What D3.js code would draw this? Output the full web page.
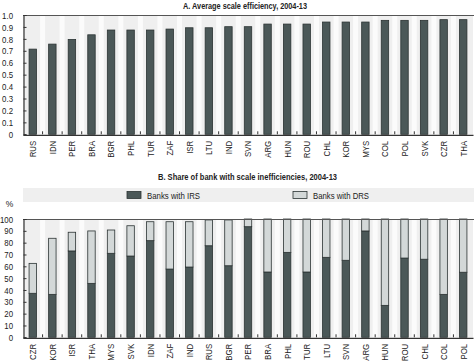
<!DOCTYPE html>
<html><head><meta charset="utf-8">
<script src="https://cdn.jsdelivr.net/npm/d3@7"></script>
<style>body{margin:0;background:#fff}svg{display:block}text{font-family:"Liberation Sans",Arial,sans-serif;fill:#222}</style>
</head><body><svg id="c" width="474" height="361"></svg>
<script>
const catsA = ["RUS","IDN","PER","BRA","BGR","PHL","TUR","ZAF","ISR","LTU","IND","SVN","ARG","HUN","ROU","CHL","KOR","MYS","COL","POL","SVK","CZR","THA"];
const effA  = [0.714,0.756,0.795,0.834,0.874,0.874,0.874,0.882,0.893,0.893,0.902,0.902,0.924,0.924,0.924,0.941,0.941,0.941,0.955,0.955,0.955,0.961,0.961];
const catsB = ["CZR","KOR","ISR","THA","MYS","SVK","IDN","ZAF","IND","RUS","BGR","PER","BRA","PHL","TUR","LTU","SVN","ARG","HUN","ROU","CHL","COL","POL"];
const irsB  = [37.2,36.3,73.0,45.6,71.0,68.7,81.7,57.7,59.4,77.4,60.5,93.5,55.2,71.8,55.2,67.6,65.1,89.9,27.0,67.0,66.0,36.3,55.0];
const drsB  = [25.3,47.4,15.8,44.3,19.7,25.6,16.0,40.0,38.3,21.8,38.7,6.5,44.8,28.2,44.8,32.4,34.9,10.1,73.0,33.0,34.0,63.7,45.0];
const ticksA = [0,0.1,0.2,0.3,0.4,0.5,0.6,0.7,0.8,0.9,1.0];
const ticksB = [0,10,20,30,40,50,60,70,80,90,100];
const titleA = "A. Average scale efficiency, 2004-13";
const titleB = "B. Share of bank with scale inefficiencies, 2004-13";
const legendLabels = ["Banks with IRS","Banks with DRS"];

const DARK="#4b5858", LIGHT="#d3d8d8", STROKE="#2b3333";
const FS=9.8, SX=0.8;
const svg = d3.select("#c");
const L=23, R=473;

function panel(cats, top, bottom){
  const x = d3.scaleBand().domain(cats).range([L,R]).paddingInner(0.62).paddingOuter(0.31);
  const y = d3.scaleLinear().range([bottom, top]);
  const g = svg.append("g");
  g.append("rect").attr("x",L).attr("y",top).attr("width",R-L).attr("height",bottom-top).attr("fill","#efefef");
  const step = x.step();
  g.selectAll(".st").data(cats.slice(1)).join("rect")
    .attr("x",d=>x(d)-step*x.paddingInner()/2-2.5).attr("y",top).attr("width",5).attr("height",bottom-top).attr("fill","#fbfbfb");
  return {x,y,g,step};
}
function axes(p, cats, top, bottom, ticks, fmt){
  const {x,y,g,step}=p;
  g.append("line").attr("x1",L).attr("x2",R+1).attr("y1",top+0.5).attr("y2",top+0.5).attr("stroke","#555").attr("stroke-width",1);
  const ya = d3.axisLeft(y).tickValues(ticks).tickFormat(fmt).tickSize(-3);
  const yg = g.append("g").attr("transform",`translate(${L+0.5},0)`).call(ya);
  yg.select(".domain").attr("stroke","#333").attr("stroke-width",1.2);
  yg.selectAll(".tick line").attr("stroke","#333");
  yg.selectAll("text").attr("font-size",FS+"px").attr("fill","#222")
    .attr("x",-10.5/SX).attr("transform",`scale(${SX},1)`);
  const xa = d3.axisBottom(x).tickSize(0);
  const xg = g.append("g").attr("transform",`translate(0,${bottom+0.5})`).call(xa);
  xg.select(".domain").attr("stroke","#333").attr("stroke-width",1.2);
  xg.selectAll("text").attr("font-size",FS+"px").attr("fill","#222")
    .attr("transform",`rotate(-90) scale(${SX},1)`).attr("text-anchor","end")
    .attr("x",-6/SX).attr("y",0).attr("dy","0.35em");
  g.selectAll(".bt").data(cats.slice(1)).join("line")
    .attr("x1",d=>x(d)-step*x.paddingInner()/2).attr("x2",d=>x(d)-step*x.paddingInner()/2)
    .attr("y1",bottom).attr("y2",bottom-3).attr("stroke","#333");
}
function fitText(t, x, y, len, size, bold, anchor){
  return svg.append("text").attr("x",x).attr("y",y).attr("text-anchor",anchor||"start")
    .attr("font-size",size+"px").attr("font-weight",bold?"bold":null)
    .attr("textLength",len).attr("lengthAdjust","spacingAndGlyphs").text(t);
}

// Panel A
const topA=15, botA=134.3;
fitText(titleA, 245, 8.5, 124, 9.5, true, "middle");
const pA = panel(catsA, topA, botA);
pA.y.domain([0,1]);
pA.g.selectAll(".ba").data(catsA).join("rect")
  .attr("x",d=>pA.x(d)).attr("width",pA.x.bandwidth())
  .attr("y",(d,i)=>pA.y(effA[i])).attr("height",(d,i)=>pA.y(0)-pA.y(effA[i]))
  .attr("fill",DARK).attr("stroke",STROKE).attr("stroke-width",0.8);
axes(pA, catsA, topA, botA, ticksA, d=>d===0?"0":d3.format(".1f")(d));

// Panel B
const topB=219, botB=337.3;
fitText(titleB, 247.5, 180, 179, 9.5, true, "middle");
svg.append("rect").attr("x",L).attr("y",188).attr("width",R+1-L).attr("height",14).attr("fill","#efefef");
const legX=[127,293], legLen=[53,56];
legendLabels.forEach((t,i)=>{
  svg.append("rect").attr("x",legX[i]).attr("y",191.5).attr("width",14).attr("height",7).attr("fill",i?LIGHT:DARK).attr("stroke",STROKE).attr("stroke-width",0.8);
  fitText(t, legX[i]+20, 198.8, legLen[i], 9.8, false, "start");
});
svg.append("text").attr("x",9.5).attr("y",207).attr("text-anchor","middle").attr("font-size","8.5px").text("%");
const pB = panel(catsB, topB, botB);
pB.y.domain([0,100]);
pB.g.selectAll(".bi").data(catsB).join("rect")
  .attr("x",d=>pB.x(d)).attr("width",pB.x.bandwidth())
  .attr("y",(d,i)=>pB.y(irsB[i])).attr("height",(d,i)=>pB.y(0)-pB.y(irsB[i]))
  .attr("fill",DARK).attr("stroke",STROKE).attr("stroke-width",0.8);
pB.g.selectAll(".bd").data(catsB).join("rect")
  .attr("x",d=>pB.x(d)).attr("width",pB.x.bandwidth())
  .attr("y",(d,i)=>pB.y(irsB[i]+drsB[i])).attr("height",(d,i)=>pB.y(irsB[i])-pB.y(irsB[i]+drsB[i]))
  .attr("fill",LIGHT).attr("stroke",STROKE).attr("stroke-width",0.8);
axes(pB, catsB, topB, botB, ticksB, d3.format("d"));
</script></body></html>
